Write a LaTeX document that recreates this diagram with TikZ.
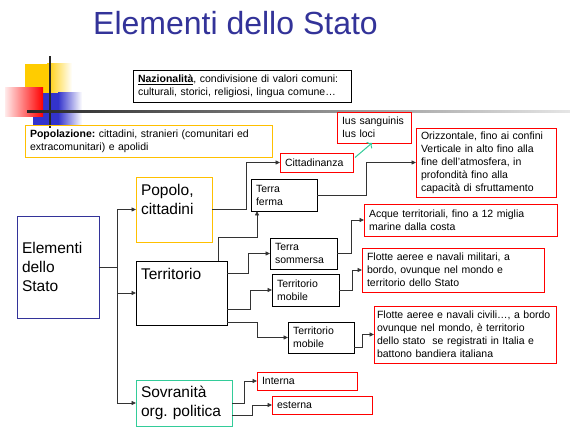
\documentclass[tikz,border=0pt]{standalone}
\usepackage{fontspec}
\setmainfont{Liberation Sans}
\usetikzlibrary{positioning,arrows.meta}

\definecolor{titleblue}{RGB}{51,51,153}
\definecolor{squareblue}{RGB}{51,51,204}
\definecolor{squareyellow}{RGB}{255,204,0}
\definecolor{frameyellow}{RGB}{255,192,0}
\definecolor{framegreen}{RGB}{51,204,153}

\tikzset{
	box/.style={draw, rectangle, anchor=north west, align=left, outer sep=0pt, inner xsep=5pt, inner ysep=2pt, line width=0.8pt, font=\fontsize{10.5}{13}\selectfont},
	redbox/.style={box, draw=red},
	bigbox/.style={box, font=\fontsize{15.5}{19}\selectfont},
	dims/.style 2 args={minimum width=#1, minimum height=#2, text width=#1-10pt},
	conn/.style={draw=black!80, line width=0.8pt, -{Triangle[length=4.5pt,width=4pt]}},
}

\begin{document}
\frenchspacing
\begin{tikzpicture}[x=1pt,y=1pt]

	\useasboundingbox (0,0) rectangle (570,431);
	\fill[white] (0,0) rectangle (570,431);

	\fill[squareyellow] (25,338) rectangle (47,367);
	\shade[left color=squareyellow, right color=white] (47,338) rectangle (72,367);
	\fill[squareblue] (33,306) rectangle (58,338);
	\shade[left color=squareblue, right color=white] (58,306) rectangle (82,338);
	\shade[left color=red!8, right color=red] (5,314) rectangle (43,343);
	\draw[black!85, line width=2pt] (50,303) -- (50,375);
	\shade[left color=black!85, right color=black!10] (27,318) rectangle (570,320);

	\node[anchor=base west, inner sep=0pt, text=titleblue, font=\fontsize{32}{38}\selectfont] (title) at (93,396) {Elementi dello Stato};

	\node[box, dims={218pt}{32pt}] (naz) at (133,361) {\underline{\textbf{Nazionalità}}, condivisione di valori comuni:\\culturali, storici, religiosi, lingua comune…};
	\node[box, draw=frameyellow, dims={247pt}{32pt}] (pop) at (25,306) {\textbf{Popolazione:} cittadini, stranieri (comunitari ed\\extracomunitari) e apolidi};

	\node[bigbox, draw=titleblue, dims={82pt}{102pt}] (el) at (17,215) {Elementi\\dello\\Stato};
	\node[bigbox, draw=frameyellow, text width=66pt, text height=17pt, text depth=44pt, below right=-39pt and 119pt of el.north west] (po) {Popolo,\\cittadini};
	\node[bigbox, text width=81pt, text height=17pt, text depth=43pt, below right=45pt and 119pt of el.north west] (te) {Territorio};
	\node[bigbox, draw=framegreen, dims={96pt}{46pt}, below right=164pt and 119pt of el.north west] (so) {Sovranità\\org. politica};

	\node[redbox, dims={73pt}{19pt}, below right=-24pt and 144pt of po.north west] (ci) {Cittadinanza};
	\node[box, dims={66pt}{32pt}, below right=2pt and 115pt of po.north west] (fe) {Terra\\ferma};
	\node[redbox, dims={74pt}{31pt}, below right=-41pt and 57pt of ci.north west] (ius) {Ius sanguinis\\Ius loci};
	\node[redbox, dims={140pt}{69pt}, below right=-51pt and 165pt of fe.north west] (oriz) {Orizzontale, fino ai confini\\Verticale in alto fino alla\\fine dell’atmosfera, in\\profondità fino alla\\capacità di sfruttamento};
	\node[box, dims={67pt}{31pt}, below right=-23pt and 134pt of te.north west] (ts) {Terra\\sommersa};
	\node[box, dims={67pt}{32pt}, below right=13pt and 136pt of te.north west] (mo1) {Territorio\\mobile};
	\node[box, dims={66pt}{31pt}, below right=61pt and 152pt of te.north west] (mo2) {Territorio\\mobile};
	\node[redbox, dims={193pt}{32pt}, below right=-34pt and 94pt of ts.north west] (acq) {Acque territoriali, fino a 12 miglia\\marine dalla costa};
	\node[redbox, dims={182pt}{44pt}, below right=-26pt and 90pt of mo1.north west] (flm) {Flotte aeree e navali militari, a\\bordo, ovunque nel mondo e\\territorio dello Stato};
	\node[redbox, dims={182pt}{57pt}, inner xsep=3pt, text width=176pt, below right=-16pt and 86pt of mo2.north west] (flc) {Flotte aeree e navali civili…, a bordo\\ovunque nel mondo, è territorio\\dello stato\ \ se registrati in Italia e\\battono bandiera italiana};
	\node[redbox, dims={100pt}{18pt}, below right=-8pt and 121pt of so.north west] (inte) {Interna};
	\node[redbox, dims={100pt}{18pt}, below right=16pt and 136pt of so.north west] (este) {esterna};

	\draw[conn] (el.east) -- ++(18,0) |- (po.west);
	\draw[conn] (el.east) -- ++(18,0) |- (te.west);
	\draw[conn] (el.east) -- ++(18,0) |- (so.west);
	\draw[conn] (po.east) -- ++(34,0) |- (ci.west);
	\draw[conn] ([xshift=-9pt]te.north east) -- ++(0,24) -| ([xshift=6pt]fe.south west);
	\draw[conn] (fe.east) -- ++(49,0) |- (oriz.west);
	\draw[conn] ([yshift=20pt]te.east) -- ++(21,0) |- (ts.west);
	\draw[conn] ([yshift=-16pt]te.east) -- ++(23,0) |- (mo1.west);
	\draw[conn] ([yshift=-29pt]te.east) -- ++(30,0) |- (mo2.west);
	\draw[conn] (ts.east) -- ++(14,0) |- (acq.west);
	\draw[conn] (mo1.east) -- ++(13,0) |- (flm.west);
	\draw[conn] ([yshift=-10pt]mo2.east) -- ++(8,0) |- (flc.west);
	\draw[conn] (so.east) -- ++(12,0) |- (inte.west);
	\draw[conn] ([yshift=-12pt]so.east) -- ++(20,0) |- (este.west);
	\draw[framegreen, line width=1pt, -{To[length=4pt]}] ([shift={(2,5)}]ci.east) -- ([xshift=35pt]ius.south west);

\end{tikzpicture}
\end{document}
